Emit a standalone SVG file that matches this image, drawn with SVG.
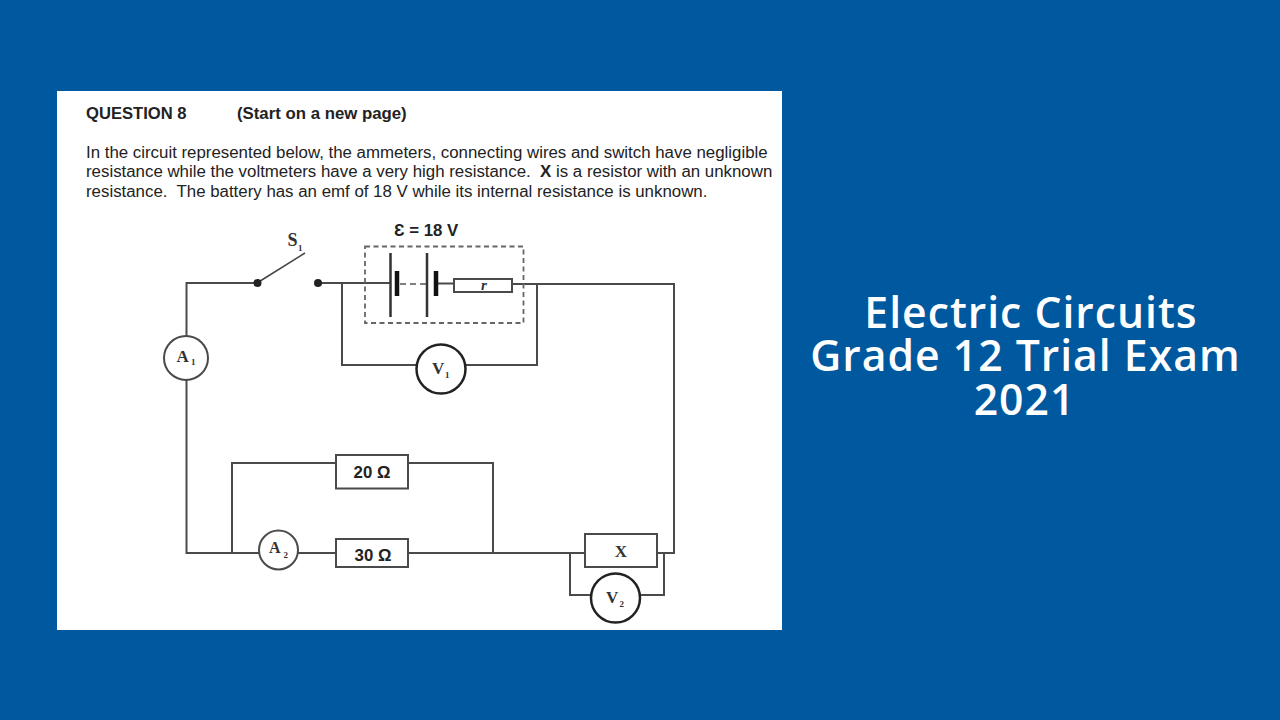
<svg xmlns="http://www.w3.org/2000/svg" width="1280" height="720" viewBox="0 0 1280 720">
<style>
.w{fill:none;stroke:#4a4a4a;stroke-width:2}
.box{fill:#fff;stroke:#4a4a4a;stroke-width:2}
.sans{font-family:"Liberation Sans",Arial,sans-serif;fill:#222;white-space:pre}
.p{font-size:16.850px}
.b{font-weight:bold}
.ser{font-family:"Liberation Serif","Times New Roman",serif;font-weight:bold;fill:#333}
.sub{font-size:9px}
.t{font-family:"Open Sans",sans-serif;font-weight:600;font-size:42.700px;letter-spacing:1px;fill:#fff;text-anchor:middle}
</style>
<rect width="1280" height="720" fill="#00589f"/>
<rect x="57" y="91" width="725" height="539" fill="#fff"/>
<g id="text">
<text class="sans b" x="86" y="119" font-size="16.600">QUESTION 8</text>
<text class="sans b" x="237" y="119" font-size="16.800">(Start on a new page)</text>
<text class="sans p" x="86" y="157.500">In the circuit represented below, the ammeters, connecting wires and switch have negligible</text>
<text class="sans p" x="86" y="177">resistance while the voltmeters have a very high resistance.  <tspan class="b">X</tspan> is a resistor with an unknown</text>
<text class="sans p" x="86" y="196.500">resistance.  The battery has an emf of 18 V while its internal resistance is unknown.</text>
</g>
<g id="connectors">
<path class="w" d="M186.500 336V283H257M318 283H390M342 283V365H416M466 365H537V284M512 284H674V553H657M186.500 380V553H259M298 553H336M408 553H585M232 553V463H336M408 463H493V553M570 553V595H590M640 595H664V553"/>
<path d="M257 283L305 253" fill="none" stroke="#444" stroke-width="1.500"/>
<path d="M400 284H427" fill="none" stroke="#555" stroke-width="1.500" stroke-dasharray="6 4"/>
<path class="w" d="M438 283.500H454"/>
</g>
<g id="switch-S1">
<circle cx="257.500" cy="283" r="4" fill="#222"/>
<circle cx="318" cy="283" r="4" fill="#222"/>
<text class="ser" x="287.500" y="246" font-size="18">S</text><text class="ser sub" x="298" y="251">1</text>
</g>
<g id="battery">
<rect x="365" y="246.500" width="158.500" height="76.500" fill="none" stroke="#666" stroke-width="1.800" stroke-dasharray="5 3.500"/>
<path d="M390.500 253V317M427 253V317" stroke="#333" stroke-width="2.500" fill="none"/>
<path d="M397 271V296M436 271V296" stroke="#111" stroke-width="4.500" fill="none"/>
<text class="sans b" x="394" y="235.500" font-size="16.800">Ɛ = 18 V</text>
</g>
<g id="resistor-r">
<rect class="box" x="454" y="279" width="58" height="13"/>
<text class="ser" x="484" y="290" font-size="15" font-style="italic" text-anchor="middle">r</text>
</g>
<g id="ammeter-A1">
<circle class="box" cx="186" cy="358" r="22"/>
<text class="ser" x="176.500" y="362" font-size="17">A</text><text class="ser sub" x="191" y="365">1</text>
</g>
<g id="voltmeter-V1">
<circle cx="441" cy="369" r="24.500" fill="#fff" stroke="#222" stroke-width="2.500"/>
<text class="ser" x="432" y="374" font-size="17">V</text><text class="ser sub" x="445" y="378">1</text>
</g>
<g id="resistor-20">
<rect class="box" x="336" y="455" width="72" height="33.500"/>
<text class="sans b" x="372" y="478" font-size="16.800" text-anchor="middle">20 Ω</text>
</g>
<g id="ammeter-A2">
<circle class="box" cx="278.500" cy="550" r="19.500"/>
<text class="ser" x="269" y="553" font-size="16">A</text><text class="ser sub" x="283.500" y="558">2</text>
</g>
<g id="resistor-30">
<rect class="box" x="336" y="539" width="72" height="28"/>
<text class="sans b" x="373" y="561" font-size="16.800" text-anchor="middle">30 Ω</text>
</g>
<g id="resistor-X">
<rect class="box" x="585" y="534" width="72" height="33"/>
<text class="ser" x="621" y="557" font-size="17" text-anchor="middle">X</text>
</g>
<g id="voltmeter-V2">
<circle cx="615.500" cy="598" r="24.500" fill="#fff" stroke="#222" stroke-width="2.500"/>
<text class="ser" x="606" y="603" font-size="17">V</text><text class="ser sub" x="619.500" y="607">2</text>
</g>
<g id="title">
<text class="t" x="1031" y="328">Electric Circuits</text>
<text class="t" x="1025.500" y="371">Grade 12 Trial Exam</text>
<text class="t" x="1024.500" y="415">2021</text>
</g>
</svg>
